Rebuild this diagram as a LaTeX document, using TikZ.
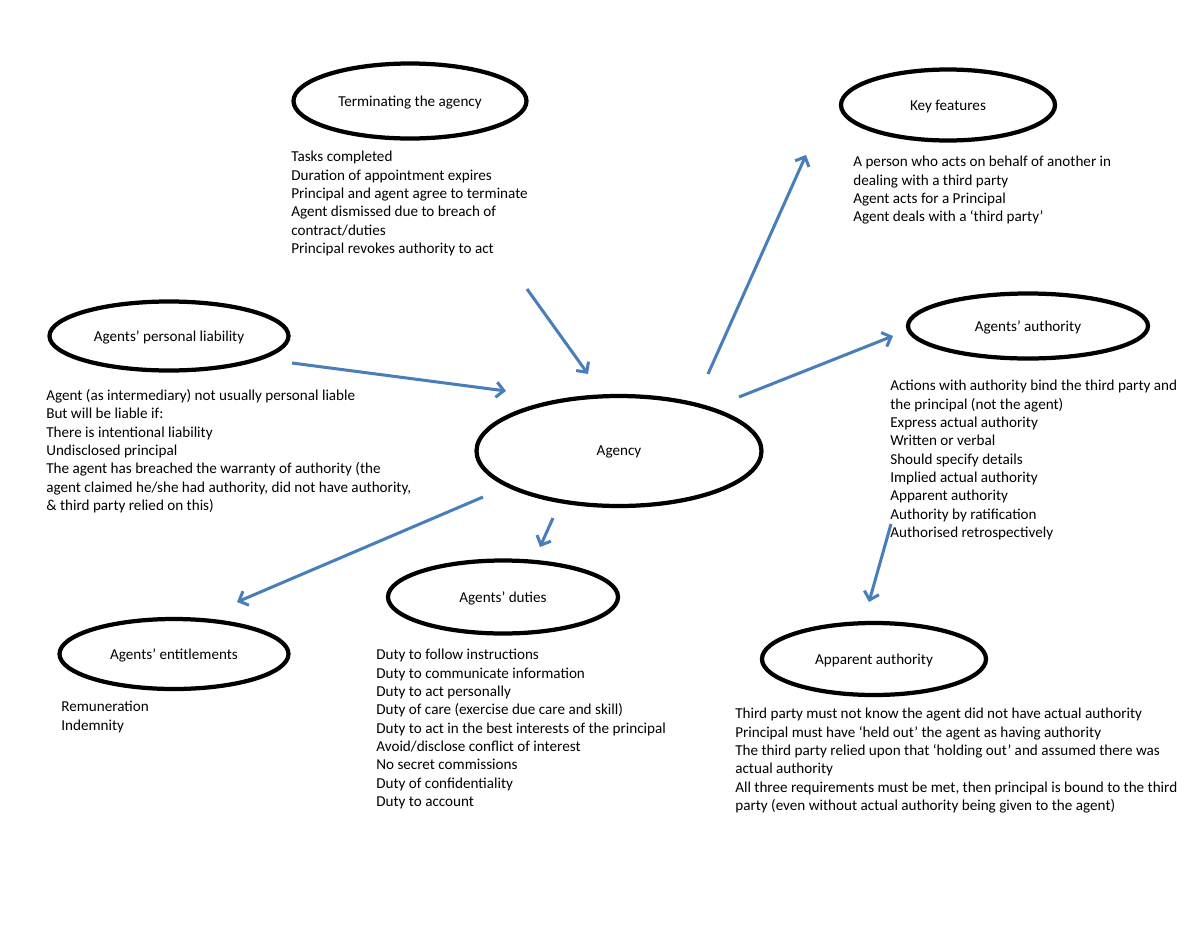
\documentclass[tikz,border=0pt]{standalone}
\usepackage{fontspec}
\setmainfont{Carlito}
\usetikzlibrary{shapes.geometric, arrows.meta}
\definecolor{linkblue}{RGB}{74,126,187}

\begin{document}
\begin{tikzpicture}[x=0.66pt, y=-0.66pt,
  topic/.style 2 args={draw, ellipse, line width=2.8pt, inner sep=0pt,
    minimum width=#1*0.66pt, minimum height=#2*0.66pt, text depth=0pt,
    font=\fontsize{10}{12}\selectfont},
  notes/.style={anchor=north west, align=left, inner sep=0pt,
    font=\fontsize{10}{12.1}\selectfont},
  link/.style={draw=linkblue, line width=2pt,
    -{Straight Barb[length=5pt, width=10pt, line width=2pt]}}]
  \useasboundingbox (0,0) rectangle (1200,927);

  % topics
  \node[topic={233}{75}] (term) at (410,101) {Terminating the agency};
  \node[topic={214}{71}] (key) at (948,105) {Key features};
  \node[topic={239}{69}] (liab) at (169,336) {Agents’ personal liability};
  \node[topic={240}{65}] (auth) at (1028,326) {Agents’ authority};
  \node[topic={285}{110}] (agency) at (619,451) {Agency};
  \node[topic={230}{73}] (duties) at (503,597) {Agents’ duties};
  \node[topic={229}{70}] (entit) at (174,654) {Agents’ entitlements};
  \node[topic={224}{72}] (appar) at (874,659) {Apparent authority};

  % notes under each topic
  \node[notes] (termtxt) at (291,151) {Tasks completed\\
    Duration of appointment expires\\
    Principal and agent agree to terminate\\
    Agent dismissed due to breach of\\
    contract/duties\\
    Principal revokes authority to act};
  \node[notes] (keytxt) at (853,156) {A person who acts on behalf of another in\\
    dealing with a third party\\
    Agent acts for a Principal\\
    Agent deals with a ‘third party’};
  \node[notes] (liabtxt) at (46,389) {Agent (as intermediary) not usually personal liable\\
    But will be liable if:\\
    There is intentional liability\\
    Undisclosed principal\\
    The agent has breached the warranty of authority (the\\
    agent claimed he/she had authority, did not have authority,\\
    \& third party relied on this)};
  \node[notes] (authtxt) at (890,380) {Actions with authority bind the third party and\\
    the principal (not the agent)\\
    Express actual authority\\
    Written or verbal\\
    Should specify details\\
    Implied actual authority\\
    Apparent authority\\
    Authority by ratification\\
    Authorised retrospectively};
  \node[notes] (entittxt) at (61,701) {Remuneration\\
    Indemnity};
  \node[notes] (dutiestxt) at (376,649) {Duty to follow instructions\\
    Duty to communicate information\\
    Duty to act personally\\
    Duty of care (exercise due care and skill)\\
    Duty to act in the best interests of the principal\\
    Avoid/disclose conflict of interest\\
    No secret commissions\\
    Duty of confidentiality\\
    Duty to account};
  \node[notes] (appartxt) at (735,708) {Third party must not know the agent did not have actual authority\\
    Principal must have ‘held out’ the agent as having authority\\
    The third party relied upon that ‘holding out’ and assumed there was\\
    actual authority\\
    All three requirements must be met, then principal is bound to the third\\
    party (even without actual authority being given to the agent)};

  % free ends of the arrows
  \coordinate (termA) at (527,289);
  \coordinate (termB) at (588,374);
  \coordinate (liabA) at (292,363);
  \coordinate (liabB) at (506,391);
  \coordinate (keyA) at (708,374);
  \coordinate (keyB) at (806,155);
  \coordinate (authA) at (739,397);
  \coordinate (authB) at (893,336);
  \coordinate (entitA) at (483,497);
  \coordinate (entitB) at (237,602);
  \coordinate (dutiesA) at (553,518);
  \coordinate (dutiesB) at (540,547);
  \coordinate (apparA) at (891,524);
  \coordinate (apparB) at (869,602);

  \draw[link] (termA) -- (termB);
  \draw[link] (liabA) -- (liabB);
  \draw[link] (keyA) -- (keyB);
  \draw[link] (authA) -- (authB);
  \draw[link] (entitA) -- (entitB);
  \draw[link] (dutiesA) -- (dutiesB);
  \draw[link] (apparA) -- (apparB);
\end{tikzpicture}
\end{document}
